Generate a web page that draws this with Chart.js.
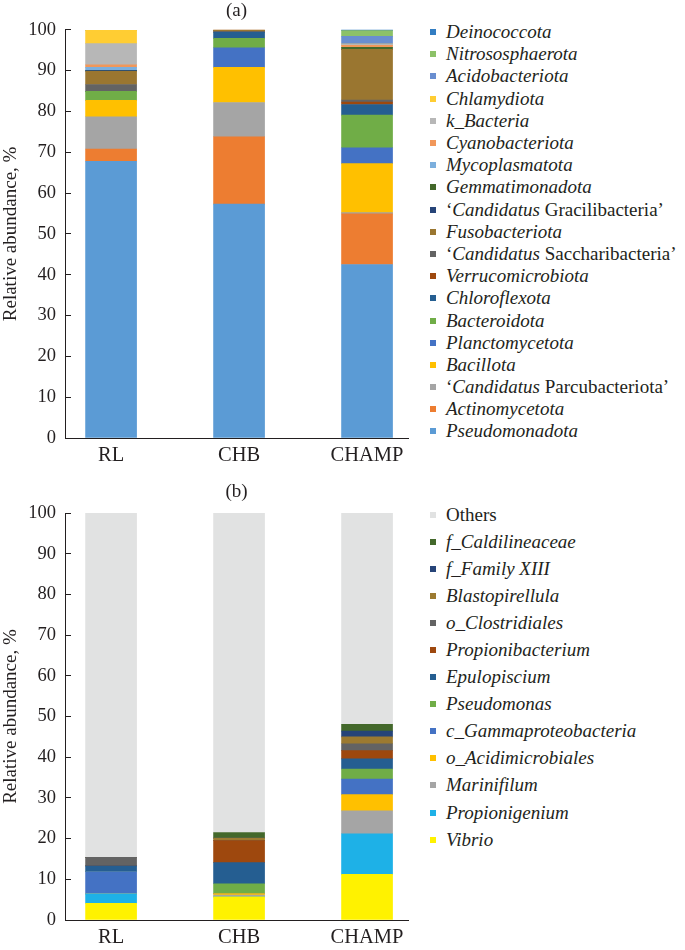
<!DOCTYPE html>
<html>
<head>
<meta charset="utf-8">
<script src="https://cdn.jsdelivr.net/npm/chart.js@4.4.1/dist/chart.umd.min.js"></script>
<style>
  body { margin: 0; background: #fff; }
  #wrap { position: relative; width: 685px; height: 950px; }
  .box { position: absolute; left: 0; width: 420px; height: 475px; }
  .legend { position: absolute; left: 430px; font-family: 'Liberation Serif', 'Times New Roman', serif; font-size: 19px; color: #231f20; white-space: nowrap; }
  .legend div { display: flex; align-items: center; }
  .legend span.sw { display: inline-block; width: 6px; height: 6px; margin-right: 10px; }
</style>
</head>
<body>
<div id="wrap">
  <div class="box" style="top:0"><canvas id="chartA"></canvas></div>
  <div class="box" style="top:475px"><canvas id="chartB"></canvas></div>
  <div class="legend" id="legendA" style="top:21px"></div>
  <div class="legend" id="legendB" style="top:501px"></div>
</div>
<script>
const samples = ['RL', 'CHB', 'CHAMP'];

// (a) phyla, bottom of the stack first
const phyla = ['Pseudomonadota', 'Actinomycetota', '‘Candidatus Parcubacteriota’', 'Bacillota',
  'Planctomycetota', 'Bacteroidota', 'Chloroflexota', 'Verrucomicrobiota',
  '‘Candidatus Saccharibacteria’', 'Fusobacteriota', '‘Candidatus Gracilibacteria’',
  'Gemmatimonadota', 'Mycoplasmatota', 'Cyanobacteriota', 'k_Bacteria', 'Chlamydiota',
  'Acidobacteriota', 'Nitrososphaerota', 'Deinococcota'];
const phylaRL =    [67.8, 3.0, 7.9, 4.0, 0, 2.2, 0, 0, 1.7, 3.2, 0.2, 0, 0.8, 0.6, 5.2, 3.3, 0, 0, 0];
const phylaCHB =   [57.3, 16.5, 8.4, 8.6, 4.8, 2.3, 1.5, 0, 0.2, 0.3, 0, 0, 0, 0.3, 0, 0, 0, 0, 0];
const phylaCHAMP = [42.5, 12.4, 0.3, 12.0, 3.9, 8.0, 2.6, 0.6, 0.5, 12.4, 0, 0.5, 0, 0.5, 0.3, 0, 1.9, 1.4, 0.4];
const phylaColors = ['#5b9bd5', '#ed7d31', '#a5a5a5', '#ffc000', '#4472c4', '#70ad47', '#255e91',
  '#9e480e', '#636363', '#9a7630', '#264478', '#43682b', '#7cafdd', '#f1975a', '#b7b7b7',
  '#ffcd33', '#698ed0', '#8cc168', '#327dc2'];

// (b) genera, bottom of the stack first
const genera = ['Vibrio', 'Propionigenium', 'Marinifilum', 'o_Acidimicrobiales', 'c_Gammaproteobacteria',
  'Pseudomonas', 'Epulopiscium', 'Propionibacterium', 'o_Clostridiales', 'Blastopirellula',
  'f_Family XIII', 'f_Caldilineaceae', 'Others'];
const generaRL =    [4.1, 2.3, 0, 0, 5.5, 0, 1.4, 0, 2.1, 0, 0, 0, 84.6];
const generaCHB =   [5.7, 0, 0.4, 0.4, 0, 2.4, 5.2, 5.4, 0, 0.6, 0, 1.4, 78.5];
const generaCHAMP = [11.2, 10.0, 5.6, 4.0, 3.8, 2.5, 2.5, 2.0, 1.7, 1.7, 1.4, 1.7, 51.9];
const generaColors = ['#fff200', '#1eb1e7', '#a5a5a5', '#ffc000', '#4472c4', '#70ad47', '#255e91',
  '#9e480e', '#636363', '#9c7a30', '#264478', '#43682b', '#e1e2e2'];

const ink = '#231f20';
const serif = "'Liberation Serif', 'Times New Roman', serif";
Chart.defaults.font.family = serif;
Chart.defaults.color = ink;

function stackSets(names, colors, bySample) {
  return names.map((name, i) => ({
    label: name,
    data: bySample.map((vals, s) => ({x: s, y: vals[i]})),
    backgroundColor: colors[i],
    borderWidth: 0,
    barThickness: 51
  }));
}

function makeOptions(title, padTop, padBottom, xHeight) {
  return {
    responsive: true,
    maintainAspectRatio: false,
    animation: false,
    layout: { padding: { left: 0, right: 12, top: 0, bottom: 0 } },
    plugins: {
      legend: { display: false },
      tooltip: { enabled: false },
      title: {
        display: true, text: title, fullSize: false, color: ink,
        font: { size: 19, weight: 'normal' },
        padding: { top: padTop, bottom: padBottom }
      }
    },
    scales: {
      x: {
        type: 'linear', stacked: true, offset: false, bounds: 'data',
        min: -0.36, max: 2.32,
        afterBuildTicks: axis => { axis.ticks = samples.map((s, i) => ({ value: i })); },
        afterFit: axis => { axis.height = xHeight; },
        ticks: { callback: v => samples[v], autoSkip: false, maxRotation: 0, padding: 5, font: { size: 20.5 }, color: ink },
        grid: { display: false, drawTicks: false, offset: false },
        border: { display: true, color: ink, width: 1 }
      },
      y: {
        stacked: true, min: 0, max: 100,
        afterFit: axis => { axis.width = 65; },
        ticks: { stepSize: 10, padding: 15, font: { size: 18.5 }, color: ink },
        grid: { drawOnChartArea: false, color: ink, tickLength: -6, tickWidth: 1 },
        border: { display: true, color: ink, width: 1 },
        title: { display: true, text: 'Relative abundance, %', color: ink, font: { size: 19 }, padding: 0 }
      }
    }
  };
}

function legendText(name) {
  if (name === 'Others') return name;
  const m = name.match(/^‘Candidatus (.*)’$/);
  if (m) return '‘<i>Candidatus</i> ' + m[1] + '’';
  return '<i>' + name + '</i>';
}

function fillLegend(id, names, colors, rowH) {
  const el = document.getElementById(id);
  for (let i = names.length - 1; i >= 0; i--) {
    const row = document.createElement('div');
    row.style.height = rowH + 'px';
    row.innerHTML = '<span class="sw" style="background:' + colors[i] + '"></span><span>' + legendText(names[i]) + '</span>';
    el.appendChild(row);
  }
}

new Chart('chartA', {
  type: 'bar',
  data: { datasets: stackSets(phyla, phylaColors, [phylaRL, phylaCHB, phylaCHAMP]) },
  options: makeOptions('(a)', 0, 7, 37)
});

new Chart('chartB', {
  type: 'bar',
  data: { datasets: stackSets(genera, generaColors, [generaRL, generaCHB, generaCHAMP]) },
  options: makeOptions('(b)', 5.6, 9.6, 30)
});

fillLegend('legendA', phyla, phylaColors, 22.2);
fillLegend('legendB', genera, generaColors, 27.1);
</script>
</body>
</html>
